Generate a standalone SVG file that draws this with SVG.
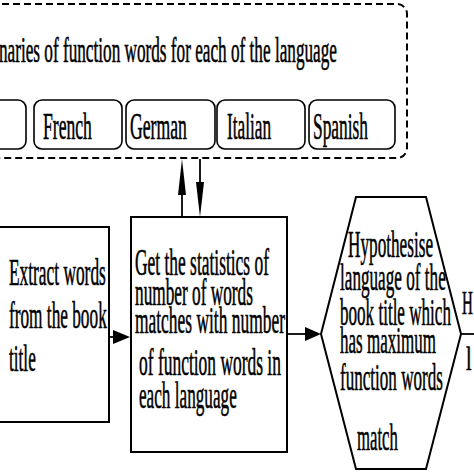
<svg xmlns="http://www.w3.org/2000/svg" width="474" height="474" viewBox="0 0 474 474">
  <defs>
    <style>
      .t { font-family: "Liberation Serif", "Times New Roman", serif; font-size: 37px; fill: #000; stroke: #000; stroke-width: 0.6; }
      .ts { font-size: 35px; }
      .tr { font-size: 33px; }
      .box { fill: #fff; stroke: #000; stroke-width: 2; }
      .lang { fill: #fff; stroke: #000; stroke-width: 1.6; }
      .dash { fill: none; stroke: #000; stroke-width: 2; stroke-dasharray: 7 4; }
      .ln { fill: none; stroke: #000; stroke-width: 1.8; }
      .head { fill: #000; stroke: none; }
    </style>
  </defs>
  <rect width="474" height="474" fill="#fff"/>

  <g id="dictionaries">
    <rect class="dash" x="-30" y="4" width="437" height="154" rx="10" ry="10"/>
    <text class="t ts" transform="translate(-1 62) scale(0.47 1)" textLength="719" lengthAdjust="spacingAndGlyphs">naries of function words for each of the language</text>
  </g>

  <g id="lang-first">
    <rect class="lang" x="-60" y="100" width="86" height="49" rx="8" ry="8"/>
  </g>
  <g id="lang-french">
    <rect class="lang" x="34" y="100" width="88" height="49" rx="8" ry="8"/>
    <text class="t" transform="translate(43 139) scale(0.47 1)" textLength="104" lengthAdjust="spacingAndGlyphs">French</text>
  </g>
  <g id="lang-german">
    <rect class="lang" x="126" y="100" width="89" height="49" rx="8" ry="8"/>
    <text class="t" transform="translate(130 139) scale(0.47 1)" textLength="121" lengthAdjust="spacingAndGlyphs">German</text>
  </g>
  <g id="lang-italian">
    <rect class="lang" x="217" y="100" width="88" height="49" rx="8" ry="8"/>
    <text class="t" transform="translate(227 139) scale(0.47 1)" textLength="94" lengthAdjust="spacingAndGlyphs">Italian</text>
  </g>
  <g id="lang-spanish">
    <rect class="lang" x="309" y="100" width="86" height="49" rx="8" ry="8"/>
    <text class="t" transform="translate(313 139) scale(0.47 1)" textLength="117" lengthAdjust="spacingAndGlyphs">Spanish</text>
  </g>

  <g id="extract">
    <rect class="box" x="-20" y="227" width="129" height="195"/>
    <text class="t" transform="translate(9 285) scale(0.47 1)" textLength="206" lengthAdjust="spacingAndGlyphs">Extract words</text>
    <text class="t" transform="translate(9 328) scale(0.47 1)" textLength="208" lengthAdjust="spacingAndGlyphs">from the book</text>
    <text class="t" transform="translate(9 371) scale(0.47 1)" textLength="57" lengthAdjust="spacingAndGlyphs">title</text>
  </g>

  <g id="statistics">
    <rect class="box" x="131" y="217" width="156" height="235"/>
    <text class="t" transform="translate(135 275) scale(0.47 1)" textLength="285" lengthAdjust="spacingAndGlyphs">Get the statistics of</text>
    <text class="t" transform="translate(135 305) scale(0.47 1)" textLength="251" lengthAdjust="spacingAndGlyphs">number of words</text>
    <text class="t" transform="translate(135 333) scale(0.47 1)" textLength="319" lengthAdjust="spacingAndGlyphs">matches with number</text>
    <text class="t" transform="translate(139 375) scale(0.47 1)" textLength="302" lengthAdjust="spacingAndGlyphs">of function words in</text>
    <text class="t" transform="translate(139 408) scale(0.47 1)" textLength="208" lengthAdjust="spacingAndGlyphs">each language</text>
  </g>

  <g id="hypothesise">
    <polygon class="box" points="356,197 426,197 461,334 426,469 356,469 321,334"/>
    <text class="t" transform="translate(348 257) scale(0.47 1)" textLength="181" lengthAdjust="spacingAndGlyphs">Hypothesise</text>
    <text class="t" transform="translate(340 290) scale(0.47 1)" textLength="225" lengthAdjust="spacingAndGlyphs">language of the</text>
    <text class="t" transform="translate(340 325) scale(0.47 1)" textLength="236" lengthAdjust="spacingAndGlyphs">book title which</text>
    <text class="t" transform="translate(340 353) scale(0.47 1)" textLength="204" lengthAdjust="spacingAndGlyphs">has maximum</text>
    <text class="t" transform="translate(340 390) scale(0.47 1)" textLength="219" lengthAdjust="spacingAndGlyphs">function words</text>
    <text class="t" transform="translate(357 450) scale(0.47 1)" textLength="87" lengthAdjust="spacingAndGlyphs">match</text>
  </g>

  <g id="next-node">
    <text class="t tr" transform="translate(462 314) scale(0.47 1)" textLength="23" lengthAdjust="spacingAndGlyphs">H</text>
    <text class="t tr" transform="translate(466 370) scale(0.47 1)" textLength="12" lengthAdjust="spacingAndGlyphs">l</text>
  </g>

  <g id="connectors">
    <line class="ln" x1="182" y1="217" x2="182" y2="192"/>
    <polygon class="head" points="182,159 178,195 186,195"/>
    <line class="ln" x1="200" y1="159" x2="200" y2="185"/>
    <polygon class="head" points="196,182 204,182 200,217"/>
    <line class="ln" x1="109" y1="337" x2="115" y2="337"/>
    <polygon class="head" points="113,330 113,344 130,337"/>
    <line class="ln" x1="287" y1="334" x2="307" y2="334"/>
    <polygon class="head" points="305,327 305,341 321,334"/>
    <line class="ln" x1="461" y1="334" x2="474" y2="334"/>
  </g>
</svg>
